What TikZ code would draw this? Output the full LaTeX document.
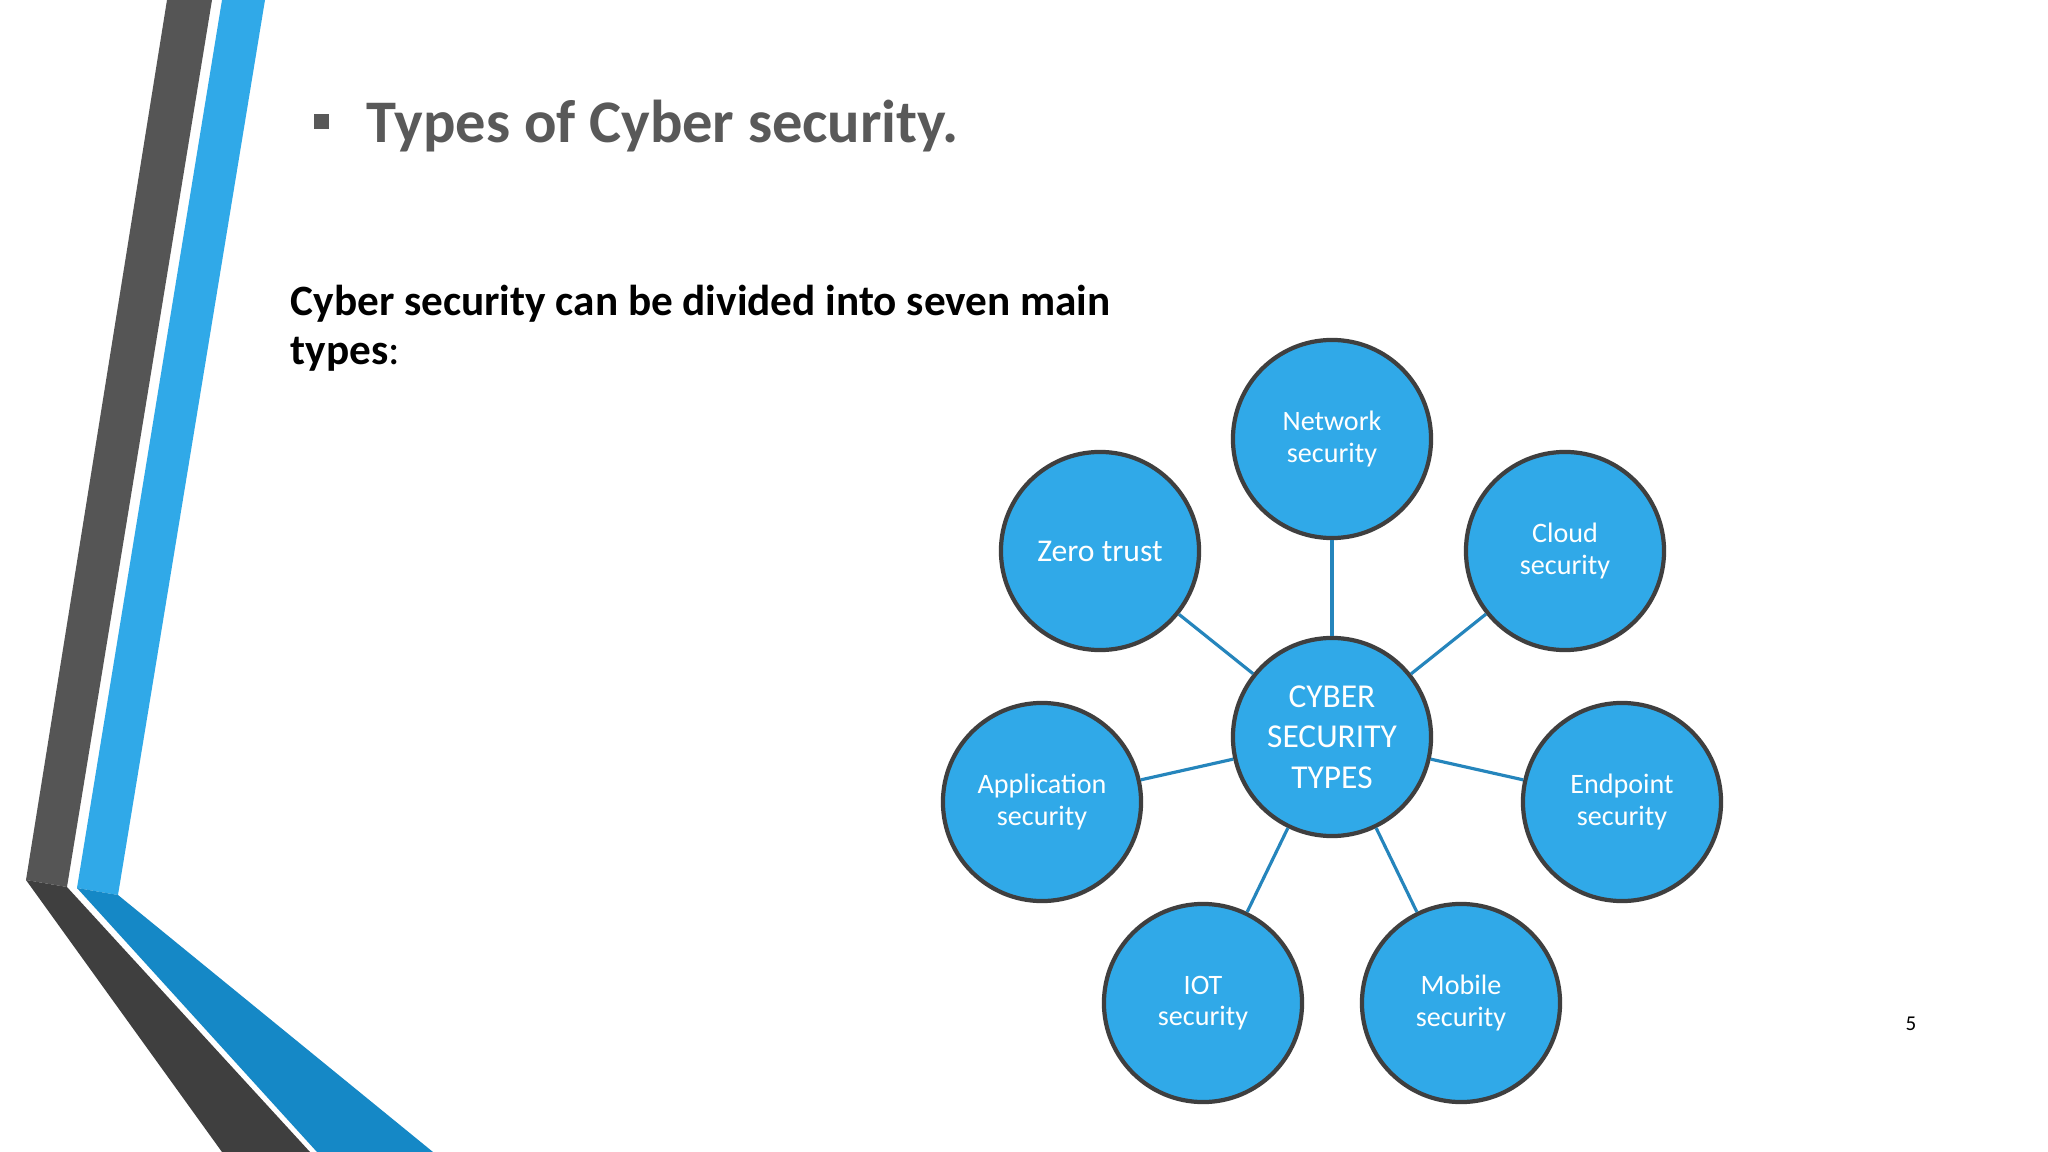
\documentclass[tikz,border=0pt]{standalone}
\usepackage{fontspec}
\setmainfont{Carlito}
\definecolor{cblue}{HTML}{30A9E8}
\definecolor{dblue}{HTML}{1588C6}
\definecolor{dgrey}{HTML}{555555}
\definecolor{ddgrey}{HTML}{3F3F3F}
\definecolor{tgrey}{HTML}{595959}
\definecolor{lineblue}{HTML}{2585BC}
\begin{document}
\begin{tikzpicture}[x=0.01cm,y=-0.01cm,
  circ/.style={circle,draw=ddgrey,line width=1.2pt,fill=cblue,minimum size=1.98cm,inner sep=0pt,text=white,align=center,font=\fontsize{8}{9}\selectfont},
  conn/.style={draw=lineblue,line width=0.9pt}]
\useasboundingbox (0,0) rectangle (2048,1152);
\fill[white] (0,0) rectangle (2048,1152);
% decorative bars
\fill[dgrey] (167,0) -- (212,0) -- (67,887) -- (26,880) -- cycle;
\fill[ddgrey] (26,880) -- (67,887) -- (310,1152) -- (222,1152) -- cycle;
\fill[cblue] (222,0) -- (265,0) -- (118,895) -- (77,888) -- cycle;
\fill[dblue] (77,888) -- (118,895) -- (433,1152) -- (317,1152) -- cycle;
% title
\fill[tgrey] (314,114) rectangle (329,129);
\node[anchor=base west,text=tgrey,inner sep=0pt,font=\fontsize{17.2}{20}\selectfont\bfseries] (title) at (366,143) {Types of Cyber security.};
\node[anchor=base west,inner sep=0pt,align=left,font=\fontsize{12.3}{14}\selectfont\bfseries] (body) at (290,316) {Cyber security can be divided into seven main};
\node[anchor=base west,inner sep=0pt,font=\fontsize{12.3}{14}\selectfont] (body2) at (290,365) {\textbf{types}:};
\node[font=\fontsize{6}{7}\selectfont] (pg) at (1911,1024) {5};
% circles
\node[circ,font=\fontsize{9.5}{11.5}\selectfont] (c) at (1332,737) {CYBER\\SECURITY\\TYPES};
\node[circ] (n) at (1332,439) {Network\\security};
\node[circ] (cl) at (1565,551) {Cloud\\security};
\node[circ] (e) at (1622,802) {Endpoint\\security};
\node[circ] (m) at (1461,1003) {Mobile\\security};
\node[circ] (i) at (1203,1003) {IOT\\security};
\node[circ] (a) at (1042,802) {Application\\security};
\node[circ,font=\fontsize{9}{10}\selectfont] (z) at (1100,551) {Zero trust};
\foreach \t in {n,cl,e,m,i,a,z} \draw[conn] (c) -- (\t);
\end{tikzpicture}
\end{document}
